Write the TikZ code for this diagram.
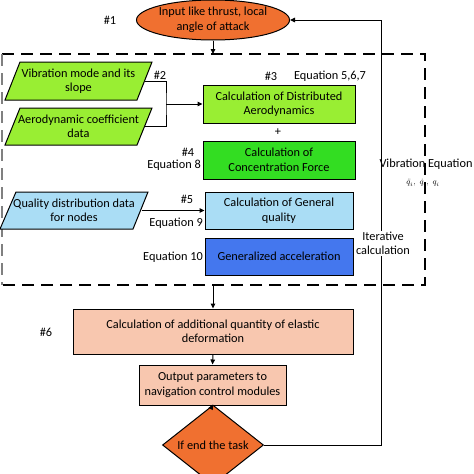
\documentclass[tikz,border=0pt]{standalone}
\usepackage{fontspec}
\setmainfont{Carlito}
\usetikzlibrary{shapes.geometric,arrows.meta}
\definecolor{limeg}{HTML}{99EE33}
\definecolor{brightg}{HTML}{33DD22}
\definecolor{lblue}{HTML}{AADDF5}
\definecolor{dblue}{HTML}{4477EE}
\definecolor{salmon}{HTML}{F8C7AF}
\definecolor{orng}{HTML}{F07030}
\begin{document}
\begin{tikzpicture}[x=1pt,y=-1pt,
  font=\fontsize{12.3}{14.5}\selectfont,
  box/.style={draw=black,line width=1pt,align=center,inner sep=1pt},
  para/.style={draw=black,line width=1pt},
  lbl/.style={inner sep=1pt},
  conn/.style={line width=1pt},
  arr/.style={line width=1pt,-{Triangle[length=5pt,width=4.5pt]}},
  dashbox/.style={line width=1.4pt,dash pattern=on 12pt off 7pt}]
\useasboundingbox (0,0) rectangle (474,474);
\fill[white] (0,0) rectangle (474,474);

% Vibration equation label (lines cross it)
\node[inner sep=0pt] (vib) at (426,164) {Vibration Equation};
\node[inner sep=0pt,font=\fontsize{8.5}{9}\selectfont] (qs) at (423,183) {$\ddot{q}_i,\;\dot{q}_i,\;q_i$};

% top ellipse
\node[ellipse,draw=black,line width=1pt,fill=orng,align=center,minimum width=152pt,minimum height=40pt,inner sep=0pt] (ell) at (213,20) {Input like thrust, local\\angle of attack};
\node[lbl] (h1) at (110,20) {\#1};

% dashed frame
\coordinate (dtop) at (213,54);
\coordinate (dbot) at (213,285);
\draw[dashbox] (2,54) -- (425,54) -- (425,285) -- (2,285);
\draw[dashbox,gray] (2,54) -- (2,285);

% parallelograms
\draw[para,fill=limeg] (5,100) -- (20,62) -- (152,62) -- (137,100) -- cycle;
\node[align=center,inner sep=0pt] (p1) at (78.5,81) {Vibration mode and its\\slope};
\coordinate (p1r) at (144.5,81);
\draw[para,fill=limeg] (5,145) -- (20,108) -- (152,108) -- (137,145) -- cycle;
\node[align=center,inner sep=0pt] (p2) at (78.5,126.5) {Aerodynamic coefficient\\data};
\coordinate (p2r) at (144.5,126.5);
\draw[para,fill=lblue] (0,229) -- (16,192) -- (148,192) -- (133,229) -- cycle;
\node[align=center,inner sep=0pt] (p3) at (74,210.5) {Quality distribution data\\for nodes};
\coordinate (p3r) at (141.5,210.5);

% boxes
\node[box,fill=limeg,minimum width=152pt,minimum height=38pt] (b3) at (279,104) {Calculation of Distributed\\Aerodynamics};
\node[box,fill=brightg,minimum width=152pt,minimum height=38pt] (b4) at (279,160) {Calculation of\\Concentration Force};
\node[box,fill=lblue,minimum width=148pt,minimum height=37pt] (b5) at (279,210.5) {Calculation of General\\quality};
\node[box,fill=dblue,minimum width=148pt,minimum height=37pt] (b6) at (279,256.5) {Generalized acceleration};
\node[box,fill=salmon,minimum width=280pt,minimum height=45pt] (b7) at (213,331.5) {Calculation of additional quantity of elastic\\deformation};
\node[box,fill=salmon,minimum width=147pt,minimum height=40pt] (b8) at (212.5,385) {Output parameters to\\navigation control modules};
\node[diamond,draw=black,line width=1pt,fill=orng,minimum width=101pt,minimum height=46pt,inner sep=0pt] (dia) at (213,445) {If end the task};

% labels
\node[lbl] (h2) at (160,75) {\#2};
\node[lbl] (h3) at (271,76) {\#3};
\node[lbl] (e3) at (330,76) {Equation 5,6,7};
\node[lbl] (plus) at (278,132) {+};
\node[lbl] (h4) at (188,152) {\#4};
\node[lbl,anchor=east] (e4) at (202,165) {Equation 8};
\node[lbl] (h5) at (187,199) {\#5};
\node[lbl,anchor=east] (e5) at (204,223) {Equation 9};
\node[lbl,anchor=east] (e6) at (204,257) {Equation 10};
\node[lbl] (h6) at (46,332) {\#6};

% connectors
\draw[arr] (ell.south) -- (dtop);
\coordinate (jn) at (166,104);
\draw[conn] (p1r) -| (jn) |- (p2r);
\draw[arr] (jn) -- (b3.west);
\draw[arr] (p3r) -- (b5.west);
\draw[arr] (dbot) -- (b7.north);
\draw[arr] (b7.south) -- (b8.north);
\draw[arr] (b8.south) -- (dia.north);
\coordinate (bend) at (213,474);
\draw[conn] (dia.south) -- (bend);
\coordinate (rail) at (381,0);
\draw[arr] (dia.east) -| (rail |- ell.east) -- (ell.east);

\node[lbl,fill=white,align=center] (iter) at (383,243.5) {Iterative\\calculation};
\end{tikzpicture}
\end{document}
